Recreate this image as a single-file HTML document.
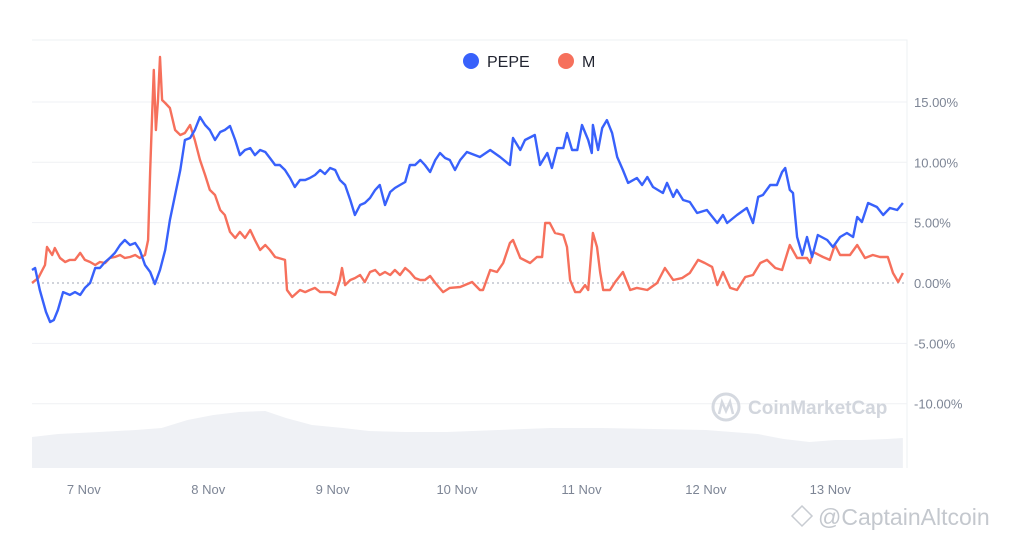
<!DOCTYPE html>
<html><head><meta charset="utf-8"><style>
body{margin:0;background:#fff;width:1024px;height:542px;overflow:hidden;font-family:"Liberation Sans",sans-serif}
svg{position:absolute;left:0;top:0}
</style></head><body>
<svg id="chart" width="1024" height="542" xmlns="http://www.w3.org/2000/svg"></svg>
<script>
// hours since chart start (6 Nov ~14:00)
const pepeT=[0,0.6,1.5,2.7,3.5,4.2,5.0,6.0,7.3,8.3,9.3,10.2,11.2,12.2,13.1,14.1,15.0,16.0,17.0,17.9,18.9,19.9,20.8,21.8,22.8,23.7,24.7,25.7,26.6,27.6,28.6,29.5,30.5,31.4,32.4,33.4,34.3,35.3,36.3,37.2,38.2,39.2,40.1,41.1,42.1,43.0,44.0,45.0,45.9,46.9,47.8,48.8,49.8,50.7,51.7,52.7,53.6,54.6,55.6,56.5,57.5,58.5,59.4,60.4,61.4,62.3,63.3,64.2,65.2,66.2,67.1,68.1,69.1,70.0,71.0,72.0,72.9,73.9,74.9,75.8,76.8,77.8,78.7,79.7,80.6,81.6,82.6,83.9,86.4,88.4,90.3,92.2,92.8,94.2,95.1,97.0,98.0,99.4,100.3,101.3,102.5,103.2,104.2,105.2,106.1,107.3,108.0,108.2,109.2,110.0,110.9,111.9,112.9,114.0,115.0,116.7,117.7,118.7,119.8,121.7,122.5,123.7,124.4,125.6,126.9,128.3,130.2,132.2,133.3,134.1,136.0,137.9,139.1,140.1,141.0,142.4,143.7,144.7,145.3,146.2,146.8,147.6,148.6,149.5,150.5,151.6,153.4,154.5,155.9,157.2,158.4,159.2,160.1,161.3,163.0,164.2,165.5,166.9,168.0];
const pepeV=[1.08,1.24,-0.58,-2.40,-3.23,-3.07,-2.24,-0.75,-0.99,-0.75,-0.99,-0.41,0,1.24,1.24,1.74,2.07,2.49,3.15,3.56,3.15,3.31,2.73,1.49,0.91,-0.08,1.08,2.73,5.22,7.29,9.36,11.85,12.01,12.68,13.75,13.09,12.68,11.85,12.51,12.68,13.01,11.85,10.60,11.02,11.18,10.60,11.02,10.85,10.36,9.78,9.78,9.36,8.70,7.95,8.53,8.53,8.70,8.95,9.36,9.03,9.53,9.36,8.53,8.12,6.88,5.63,6.46,6.63,7.04,7.71,8.12,6.46,7.54,7.87,8.12,8.37,9.78,9.78,10.19,9.78,9.20,10.19,10.77,10.36,10.19,9.36,10.19,10.85,10.44,11.02,10.44,9.78,12.01,11.02,11.85,12.26,9.78,10.77,9.53,11.18,11.18,12.43,11.02,11.02,13.09,11.85,10.77,13.09,11.02,12.84,13.50,12.43,10.44,9.36,8.29,8.70,8.12,8.78,7.95,7.46,8.29,7.13,7.71,6.88,6.71,5.80,6.05,4.97,5.63,4.97,5.63,6.21,4.97,7.13,7.29,8.12,8.12,9.20,9.53,7.71,7.46,3.81,2.32,3.81,2.15,3.98,3.56,2.98,3.81,4.14,3.81,5.47,5.05,6.63,6.30,5.63,6.21,6.05,6.63];
const mT=[0,1.2,2.5,2.9,3.9,4.4,5.4,6.4,7.3,8.3,9.3,10.2,11.2,12.2,13.1,14.1,15.0,16.0,17.0,17.9,18.9,19.9,20.8,21.8,22.4,22.8,23.2,23.5,23.9,24.3,24.7,25.1,25.7,26.6,27.6,28.6,29.5,30.5,31.4,32.4,33.4,34.3,35.3,36.3,37.2,38.2,39.2,40.1,41.1,42.1,43.0,44.0,45.0,45.9,46.9,48.8,49.2,50.2,51.7,52.7,53.6,54.6,55.6,57.5,58.5,59.4,59.8,60.4,61.4,62.3,63.3,64.2,65.2,66.2,67.1,68.1,69.1,70.0,71.0,72.0,72.9,73.9,74.9,75.8,76.8,77.8,79.3,80.6,82.6,84.9,86.4,87.0,88.4,89.7,90.9,92.2,92.8,94.2,96.1,97.4,98.4,99.0,99.9,100.9,102.5,103.2,103.8,104.8,105.7,106.7,107.3,108.2,109.0,109.6,110.2,111.5,112.5,114.0,115.4,116.7,118.7,120.6,122.1,123.7,125.4,126.9,128.5,129.8,131.2,132.2,133.3,134.7,136.0,137.6,139.1,140.5,141.8,143.4,144.7,146.2,147.6,149.5,150.1,150.7,152.6,153.9,154.9,155.9,157.8,159.2,160.7,162.2,163.6,165.1,166.1,167.1,168.0];
const mV=[0,0.41,1.49,2.98,2.32,2.90,2.07,1.74,1.91,1.91,2.49,1.91,1.74,1.49,1.74,1.66,2.07,2.15,2.32,2.07,2.15,2.32,2.07,2.32,3.56,9.36,14.33,17.65,12.68,15.16,18.72,15.16,14.91,14.50,12.68,12.26,12.43,13.09,11.85,10.19,8.95,7.71,7.29,6.05,5.63,4.23,3.73,4.23,3.73,4.39,3.56,2.73,3.15,2.73,2.15,1.91,-0.58,-1.16,-0.58,-0.75,-0.58,-0.41,-0.75,-0.75,-0.99,0.25,1.24,-0.17,0.25,0.41,0.66,0.08,0.91,1.08,0.66,0.91,0.66,1.08,0.66,1.24,0.91,0.41,0.25,0.25,0.58,0,-0.75,-0.41,-0.33,0.08,-0.58,-0.58,1.08,0.91,1.66,3.31,3.56,2.07,1.66,2.15,2.15,4.97,4.97,4.14,3.98,2.98,0.25,-0.75,-0.75,-0.17,-0.58,4.14,2.98,0.91,-0.58,-0.58,0.08,0.91,-0.58,-0.41,-0.58,0,1.24,0.25,0.41,0.83,1.91,1.66,1.33,-0.17,0.91,-0.41,-0.58,0.50,0.66,1.66,1.91,1.24,1.08,3.15,2.07,2.07,1.66,2.57,2.15,1.91,3.15,2.32,2.32,3.15,2.07,2.32,2.15,2.15,0.83,0.08,0.83];
const volT=[0,5,13,20,25,30,35,40,45,49,54,60,65,72,80,90,100,110,120,130,140,145,150,155,160,165,168];
const volV=[31,34,36,38,40,48,53,56,57,50,43,40,37,36,36,38,40,40,39,38,34,29,26,28,28,29,30];
const yTicks=[-10,-5,0,5,10,15];
const xTickLabels=["7 Nov","8 Nov","9 Nov","10 Nov","11 Nov","12 Nov","13 Nov"];
const xTickHours=[10,34,58,82,106,130,154];

const L=32,R=907,T=40,B=468;
const xS=h=>L+h*(875/168.8);
const yS=v=>283-v*12.07;
const volS=v=>B-v;
const NS="http://www.w3.org/2000/svg";
const svg=document.getElementById('chart');
function mk(tag,attrs,parent){const e=document.createElementNS(NS,tag);for(const k in attrs)e.setAttribute(k,attrs[k]);(parent||svg).appendChild(e);return e;}

const frame=mk('path',{d:`M${L} ${T}H${R}V${B}`,fill:'none',stroke:'#eef0f3','stroke-width':1});



yTicks.forEach(v=>{
  const y=yS(v);
  const g=mk('line',{x1:L,x2:R,y1:y,y2:y,stroke:v===0?'#a0a7b4':'#eff1f4','stroke-width':1,'stroke-dasharray':v===0?'2,3':'none'});
  
  
  const t=mk('text',{x:914,y:y+5,'font-size':13,fill:'#7d8595'});
  t.textContent=v.toFixed(2)+'%';
  
  
});

// volume area
let vd=`M${xS(volT[0])} ${B}`;
volT.forEach((t,i)=>{vd+=`L${xS(t)} ${volS(volV[i])}`;});
vd+=`L${xS(volT[volT.length-1])} ${B}Z`;
const va=mk('path',{d:vd,fill:'#eff1f5'});



// watermark
const wm=mk('g',{});


mk('circle',{cx:726,cy:407,r:13,fill:'none',stroke:'#d5d9e0','stroke-width':3},wm);
mk('path',{d:'M719 414 L722 402 L726 411 L730 402 L733 414',fill:'none',stroke:'#d5d9e0','stroke-width':2.5},wm);
const wt=mk('text',{x:748,y:414,'font-size':19,fill:'#d2d6dd','font-weight':'bold'},wm);
wt.textContent='CoinMarketCap';

function line(T,V,color,name){
  let d='';
  T.forEach((t,i)=>{d+=(i?'L':'M')+xS(t).toFixed(1)+' '+yS(V[i]).toFixed(1);});
  const p=mk('path',{d:d,fill:'none',stroke:color,'stroke-width':2.4,'stroke-linejoin':'round'});
  
  
}
line(mT,mV,'#f6705c','series-m-line');
line(pepeT,pepeV,'#3861fb','series-pepe-line');

xTickHours.forEach((h,i)=>{
  const t=mk('text',{x:xS(h),y:494,'font-size':13,fill:'#7d8595','text-anchor':'middle'});
  t.textContent=xTickLabels[i];
  
  
});

// legend
const lg1=mk('g',{});


mk('circle',{cx:471,cy:61,r:8,fill:'#3861fb'},lg1);
const l1=mk('text',{x:487,y:67,'font-size':16,fill:'#222531'},lg1);l1.textContent='PEPE';
const lg2=mk('g',{});


mk('circle',{cx:566,cy:61,r:8,fill:'#f6705c'},lg2);
const l2=mk('text',{x:582,y:67,'font-size':16,fill:'#222531'},lg2);l2.textContent='M';

// credit watermark
const cw=mk('g',{});


mk('path',{d:'M802 506 L812 516 L802 526 L792 516Z',fill:'none',stroke:'#c8ccd2','stroke-width':1.5},cw);
const ct=mk('text',{x:818,y:525,'font-size':23,fill:'#c4c8ce'},cw);ct.textContent='@CaptainAltcoin';
</script>
</body></html>
